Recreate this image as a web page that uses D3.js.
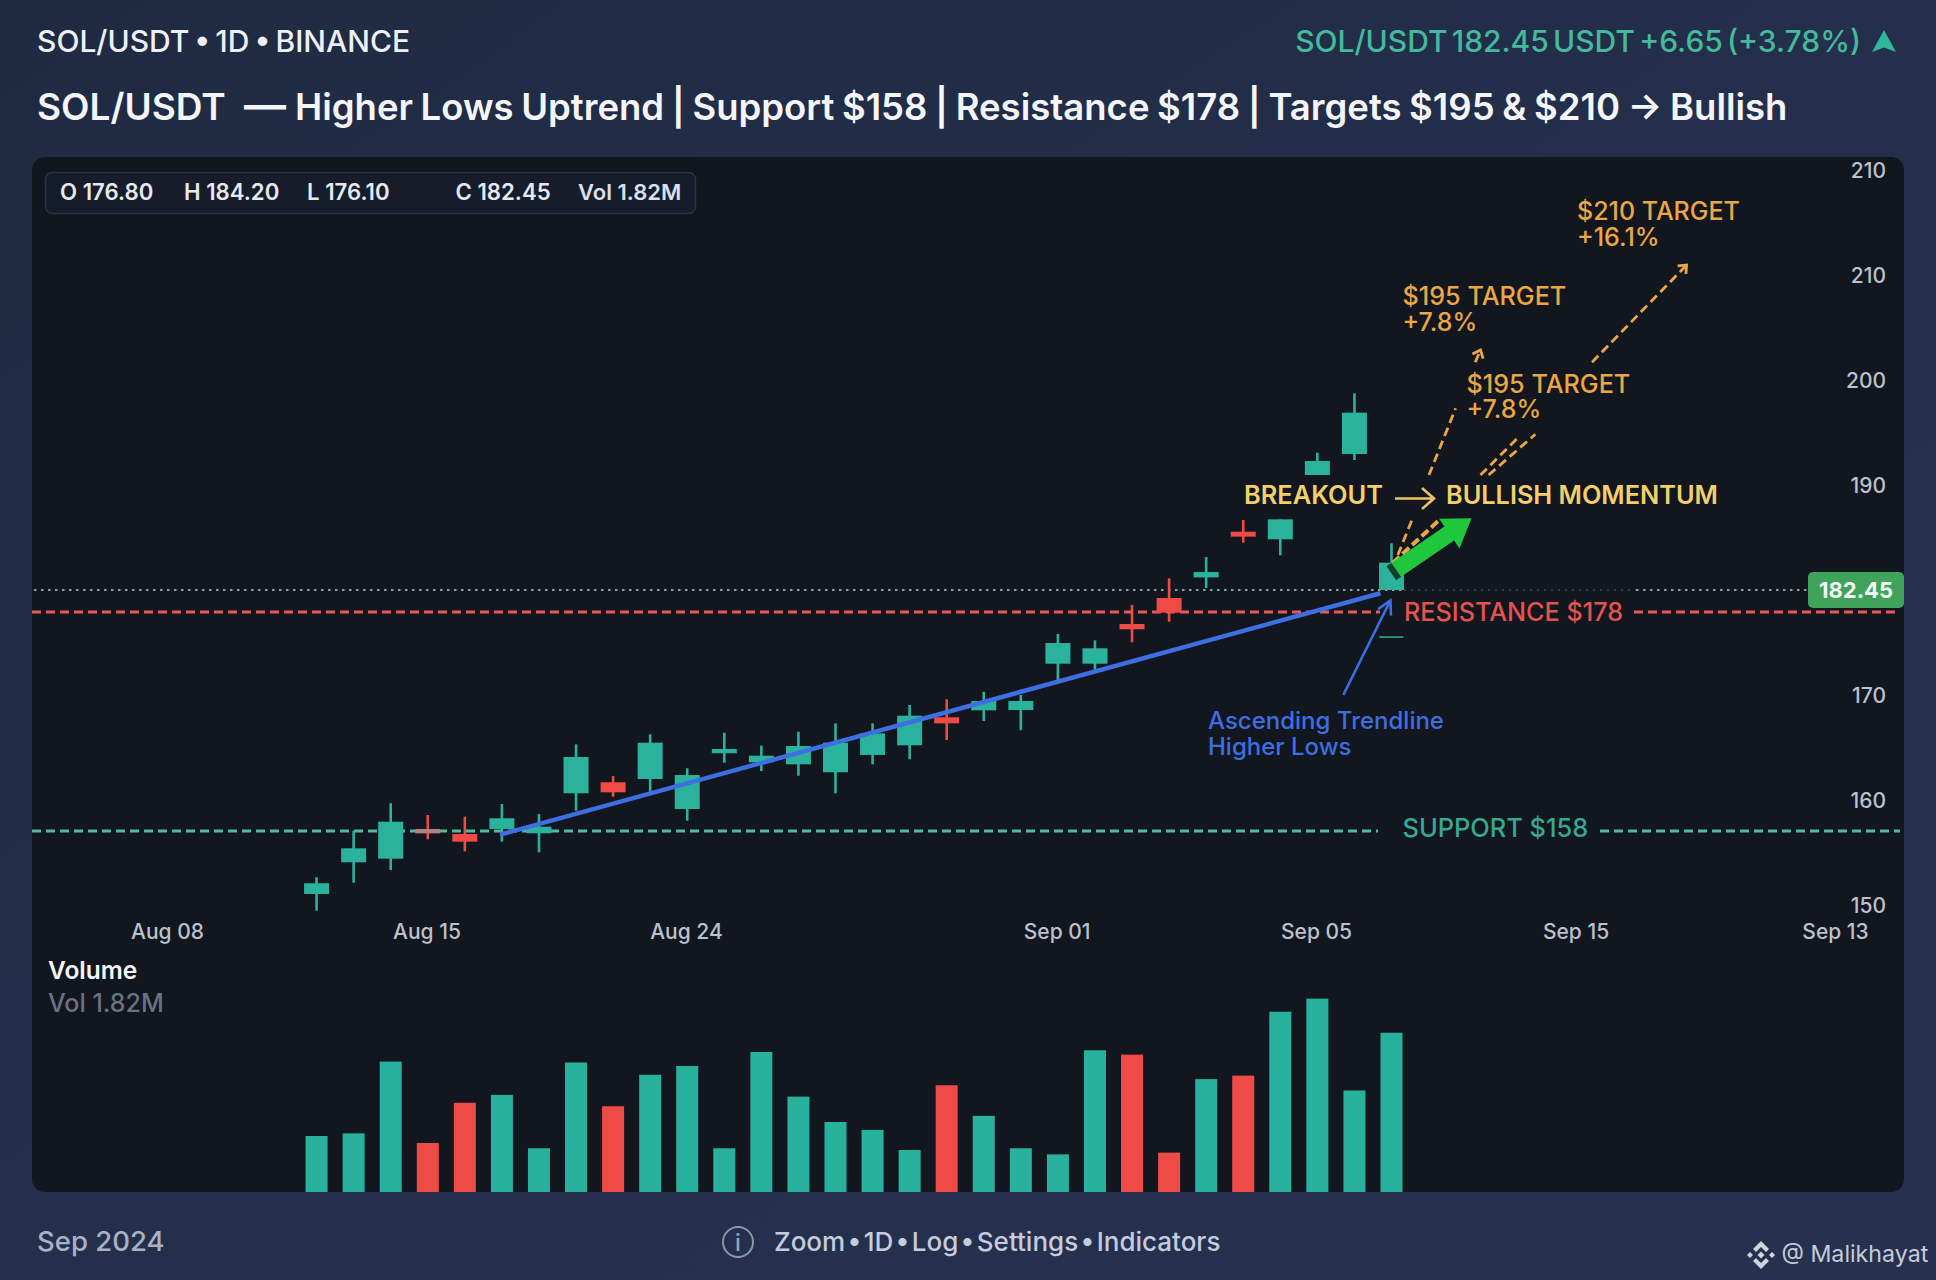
<!DOCTYPE html>
<html>
<head>
<meta charset="utf-8">
<title>SOL/USDT</title>
<script src="https://cdn.jsdelivr.net/npm/d3@7"></script>
<style>
body{margin:0;background:#222d49;}
svg{display:block;}
text{font-family:Inter,"Noto Sans",sans-serif;}
.axis text{fill:#bcc1cc;font-size:21px;font-weight:500;font-family:Inter,sans-serif;}
.axis .domain{display:none;}
</style>
</head>
<body>
<svg width="1936" height="1280"></svg>
<script>
/* ----------------------------------------------------------
data
---------------------------------------------------------- */
// slot = one candle step on the time axis
var dateSlots = [0,7,14,24,31,38,45];
var dateLabels = ["Aug 08","Aug 15","Aug 24","Sep 01","Sep 05","Sep 15","Sep 13"];
var priceTicks = [150,160,170,190,200,210,220];
var priceLabels = ["150","160","170","190","200","210","210"];

var slots = d3.range(4,34);
var opens  = [151.05,154.07,154.41,157.24,156.76,157.24,156.83,160.64,161.69,162.00,159.14,164.45,163.59,163.40,162.64,164.29,165.21,167.88,168.54,168.57,172.98,172.98,176.76,179.24,181.20,185.55,184.83,190.95,192.95,180.00];
var highs  = [152.64,157.08,159.69,158.57,158.41,159.62,158.67,165.30,162.29,166.26,163.02,166.41,165.17,166.50,167.30,167.30,169.05,169.59,170.31,170.00,175.81,175.21,178.57,181.11,183.14,186.67,186.73,193.08,198.73,184.45];
var lows   = [149.46,152.12,153.33,156.26,155.11,156.03,155.02,158.98,160.31,160.79,158.03,163.55,162.76,162.31,160.64,163.40,163.88,165.71,167.52,166.64,171.43,172.38,175.02,176.98,180.19,184.50,183.30,190.95,192.38,180.00];
var closes = [152.07,155.40,157.93,156.83,156.03,158.26,157.46,164.10,160.73,165.46,162.38,164.86,164.22,165.14,165.46,166.35,168.03,167.30,169.43,169.43,174.95,174.45,176.26,177.84,181.71,185.08,186.73,192.29,196.89,182.60];
var volumes = [0.64,0.67,1.49,0.56,1.02,1.11,0.50,1.48,0.98,1.34,1.44,0.50,1.60,1.09,0.80,0.71,0.48,1.22,0.87,0.50,0.43,1.62,1.57,0.45,1.29,1.33,2.06,2.21,1.16,1.82];
var volUp = [1,1,1,0,0,1,1,1,0,1,1,1,1,1,1,1,1,0,1,1,1,1,0,0,1,0,1,1,1,1];

var supportLevel = 157.05;
var resistanceLevel = 177.9;
var lastLevel = 180;

// annotations as [slot, price]
var trendline = [[8.95,156.7],[32.70,179.69]];
var trendPointer = [[31.70,170.0],[32.97,179.0]];
var targetDashes = [
	[[38.41,201.69],[40.96,210.95]],
	[[35.26,201.69],[35.40,202.86]],
	[[34.01,190.95],[34.73,197.30]],
	[[35.40,190.95],[36.46,194.67]],
	[[35.62,190.95],[36.88,194.83]],
	[[33.17,183.33],[33.57,186.83]]
];
var heavyDash = [[33.04,182.6],[34.29,186.67]];
var momentum = [[33.04,181.71],[35.16,186.83]];
var strayTick = [[32.67,175.52],[33.32,175.52]];

/* ----------------------------------------------------------
setting
---------------------------------------------------------- */
var teal = "#2bb29c", red = "#ef4b46", blue = "#3d6fe3", orange = "#eba743", yellow = "#f2d06a";
var svg = d3.select("svg");

var x = d3.scaleLinear().domain([0,45]).range([168.3,1836.3]);
var y = d3.scaleLinear().domain([150,220]).range([905,170]);
var v = d3.scaleLinear().domain([0,2.5]).range([1192,973.25]);
var line = d3.line().x(function(d){return x(d[0]);}).y(function(d){return y(d[1]);});

var defs = svg.append("defs");
var bg = defs.append("linearGradient").attr("id","bg").attr("x1",0).attr("y1",0).attr("x2",1).attr("y2",1);
bg.append("stop").attr("offset",0).attr("stop-color","#1f2a42");
bg.append("stop").attr("offset",0.5).attr("stop-color","#232f4b");
bg.append("stop").attr("offset",1).attr("stop-color","#25314f");

svg.append("rect").attr("width",1936).attr("height",1280).style("fill","url(#bg)");
svg.append("rect").attr("x",32).attr("y",157).attr("width",1872).attr("height",1035).attr("rx",13).style("fill","#12161f");

/* ----------------------------------------------------------
header
---------------------------------------------------------- */
function label(t,px,py,size,weight,color,anchor){
	return svg.append("text").attr("x",px).attr("y",py).attr("text-anchor",anchor||"start")
		.style("font-size",size+"px").style("font-weight",weight).style("fill",color).text(t);
}
label("SOL/USDT • 1D • BINANCE",37,52,30,500,"#eef0f5").style("word-spacing","-3px");
label("SOL/USDT 182.45 USDT +6.65 (+3.78%)",1861,52,30,500,"#44b99b","end").style("word-spacing","-3.8px");
svg.append("path").attr("d","M1884,30L1896,52L1884,47.5L1872,52Z").style("fill","#2fb79c");
label("SOL/USDT",37,120,37,600,"#f4f5f8");
label("—",244,120,36.5,600,"#f4f5f8").style("font-size","42px");
label("Higher Lows Uptrend | Support $158 | Resistance $178 | Targets $195 & $210 → Bullish",295,120,36.5,600,"#f4f5f8").style("word-spacing","-1.6px");

// ohlc box
svg.append("rect").attr("x",45.5).attr("y",172.5).attr("width",650).attr("height",41).attr("rx",7)
	.style("fill","#171c2a").style("stroke","#2a3349").style("stroke-width",1.5);
[["O 176.80",60],["H 184.20",184],["L 176.10",307],["C 182.45",455.5]].forEach(function(d){
	label(d[0],d[1],200,22.2,600,"#e6e9ef");
});
label("Vol 1.82M",578,200,22,600,"#dbe0ee");

/* ----------------------------------------------------------
axis
---------------------------------------------------------- */
svg.append("g").attr("class","axis").attr("transform","translate(1886,1)")
	.call(d3.axisLeft(y).tickValues(priceTicks).tickSize(0).tickPadding(0)
		.tickFormat(function(d,i){return priceLabels[i];}));
svg.append("g").attr("class","axis").attr("transform","translate(-1.3,924)")
	.call(d3.axisBottom(x).tickValues(dateSlots).tickSize(0).tickPadding(0)
		.tickFormat(function(d,i){return dateLabels[i];}));

/* ----------------------------------------------------------
levels
---------------------------------------------------------- */
function level(val,from,to,color,width,dash,op){
	svg.append("line").attr("x1",from).attr("x2",to).attr("y1",y(val)).attr("y2",y(val))
		.style("stroke",color).style("stroke-width",width).style("stroke-dasharray",dash).style("opacity",op||1);
}
level(lastLevel,34,1404,"#7fa79d",2,"2.5 4.5");
level(lastLevel,1404,1636,"#7fa79d",1.5,"2 5",0.35);
level(lastLevel,1636,1808,"#7fa79d",2,"2.5 4.5");
level(resistanceLevel,32,1380,"#e25c5b",3,"9 5");
level(resistanceLevel,1634,1900,"#e25c5b",3,"9 5");
level(supportLevel,32,1378,"#55b8a2",3,"9 5");
level(supportLevel,1600,1900,"#55b8a2",3,"9 5");

/* ----------------------------------------------------------
candles
---------------------------------------------------------- */
var bodyW = 25;
var candles = svg.append("g").selectAll("g").data(slots).enter().append("g");
function candleColor(d,i){ return closes[i] >= opens[i] ? teal : red; }
candles.append("line")
	.attr("x1",function(d){return x(d);}).attr("x2",function(d){return x(d);})
	.attr("y1",function(d,i){return y(highs[i]);}).attr("y2",function(d,i){return y(lows[i]);})
	.style("stroke",candleColor).style("stroke-width",2.6);
candles.append("rect")
	.attr("x",function(d){return x(d)-bodyW/2;}).attr("width",bodyW)
	.attr("y",function(d,i){return y(Math.max(opens[i],closes[i]));})
	.attr("height",function(d,i){return Math.abs(y(opens[i])-y(closes[i]));})
	.style("fill",candleColor);
svg.append("path").attr("d",line(strayTick)).style("stroke",teal).style("stroke-width",1.5).style("fill","none");
// the support line runs over this one cross
svg.append("rect").attr("x",x(7)-bodyW/2).attr("width",bodyW).attr("y",y(157.24)).attr("height",y(156.83)-y(157.24))
	.style("fill","#8f9a96").style("opacity",0.7);

/* ----------------------------------------------------------
volume
---------------------------------------------------------- */
label("Volume",48,979,24.5,600,"#f3f4f7");
label("Vol 1.82M",48,1012,25,500,"#6b7280");
svg.append("g").selectAll("rect").data(slots).enter().append("rect")
	.attr("x",function(d){return x(d)-11;}).attr("width",22)
	.attr("y",function(d,i){return v(volumes[i]);})
	.attr("height",function(d,i){return v(0)-v(volumes[i]);})
	.style("fill",function(d,i){return volUp[i] ? "#28b29d" : "#ef4b46";});

/* ----------------------------------------------------------
annotations
---------------------------------------------------------- */
// open arrow head at the end of a segment, in screen space
function chevron(seg,len,spread){
	var tx = x(seg[1][0]), ty = y(seg[1][1]);
	var a = Math.atan2(ty-y(seg[0][1]),tx-x(seg[0][0]));
	return "M"+(tx-len*Math.cos(a-spread))+","+(ty-len*Math.sin(a-spread))+"L"+tx+","+ty+
		"L"+(tx-len*Math.cos(a+spread))+","+(ty-len*Math.sin(a+spread));
}
svg.append("path").attr("d",line(trendline)).style("stroke",blue).style("stroke-width",4.5).style("fill","none");
svg.append("path").attr("d",line(trendPointer)).style("stroke",blue).style("stroke-width",2.6).style("fill","none");
svg.append("path").attr("d",chevron(trendPointer,15,0.5)).style("stroke",blue).style("stroke-width",2.6).style("fill","none");
label("Ascending Trendline",1208,729,24,500,blue);
label("Higher Lows",1208,755,24,500,blue);

svg.selectAll(".target").data(targetDashes).enter().append("path").attr("class","target")
	.attr("d",line).style("stroke",orange).style("stroke-width",2.8).style("stroke-dasharray","9 5").style("fill","none");
[targetDashes[0],targetDashes[1]].forEach(function(s){
	svg.append("path").attr("d",chevron(s,9,0.7)).style("stroke",orange).style("stroke-width",2.8).style("fill","none");
});
svg.append("path").attr("d",line(heavyDash)).style("stroke",orange).style("stroke-width",4).style("stroke-dasharray","9 4").style("fill","none");

// fat green arrow
(function(){
	var x0 = x(momentum[0][0]), y0 = y(momentum[0][1]), x1 = x(momentum[1][0]), y1 = y(momentum[1][1]);
	var a = Math.atan2(y1-y0,x1-x0), len = Math.hypot(x1-x0,y1-y0);
	var g = svg.append("g").attr("transform","translate("+x0+","+y0+") rotate("+(a*180/Math.PI)+")");
	var sw = 8.5, hw = 18, hl = 27;
	g.append("rect").attr("x",-2).attr("y",-sw).attr("width",6).attr("height",sw*2).style("fill","#14402a");
	g.append("path").attr("d","M4,"+(-sw)+"L"+(len-hl)+","+(-sw)+"L"+(len-hl)+","+(-hw)+"L"+len+",0L"+(len-hl)+","+hw+"L"+(len-hl)+","+sw+"L4,"+sw+"Z")
		.style("fill","#1fc73c");
})();

label("$210 TARGET",1577,220,25,500,orange);
label("+16.1%",1577,246,25,500,orange);
label("$195 TARGET",1402.5,305,25.2,500,orange);
label("+7.8%",1402.5,331,25,500,orange);
label("$195 TARGET",1466.5,393,25.2,500,orange);
label("+7.8%",1466.5,418,25,500,orange);
label("BREAKOUT",1244,504,25.4,600,yellow);
label("BULLISH MOMENTUM",1446,504,25.3,600,yellow);
svg.append("path").attr("d","M1395,498.5L1434,498.5M1422,488L1434,498.5L1422,509")
	.style("stroke","#f0c15f").style("stroke-width",2.6).style("fill","none");
label("RESISTANCE $178",1404,621,25.2,500,"#e5534f");
label("SUPPORT $158",1402.5,837,25.4,500,"#35a993");

// last price badge
svg.append("rect").attr("x",1808).attr("y",572).attr("width",96).attr("height",36).attr("rx",5).style("fill","#3fa35c");
label("182.45",1856,598,22,700,"#f4f8f4","middle");

/* ----------------------------------------------------------
footer
---------------------------------------------------------- */
label("Sep 2024",37,1251,27.5,500,"#a9b1c4");
svg.append("circle").attr("cx",738).attr("cy",1242).attr("r",15).style("fill","none").style("stroke","#8d95a8").style("stroke-width",2);
label("i",738,1251,23,500,"#9aa2b5","middle");
label("Zoom • 1D • Log • Settings • Indicators",774,1251,26,500,"#c6ccdd").style("word-spacing","-4.6px");
label("@ Malikhayat",1781.5,1262,23.2,400,"#c8ccd6");
// exchange mark
var logo = svg.append("g").attr("transform","translate(1761,1255)").style("fill","#d0d4dc");
logo.append("path").attr("d","M0,-14L8,-6L5,-3L0,-8L-5,-3L-8,-6Z");
logo.append("path").attr("d","M0,14L8,6L5,3L0,8L-5,3L-8,6Z");
logo.append("path").attr("d","M0,-3.5L3.5,0L0,3.5L-3.5,0Z");
logo.append("path").attr("d","M-11,-3L-8,0L-11,3L-14,0Z");
logo.append("path").attr("d","M11,-3L14,0L11,3L8,0Z");
</script>
</body>
</html>
